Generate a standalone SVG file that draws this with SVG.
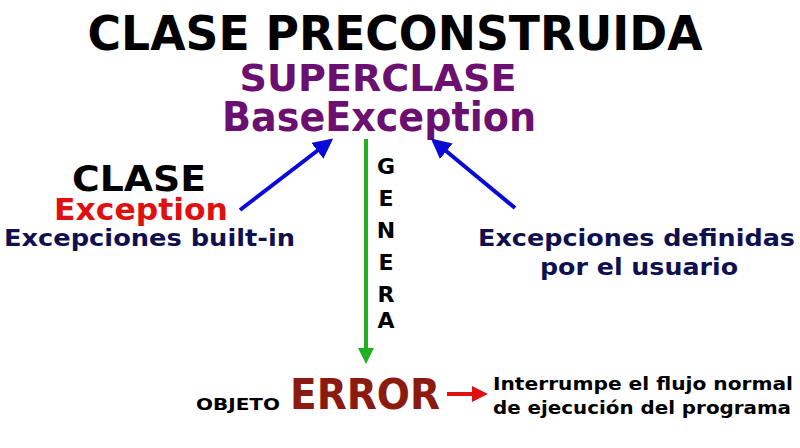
<svg xmlns="http://www.w3.org/2000/svg" width="800" height="448" viewBox="0 0 800 448">
<style>
text{font-family:"DejaVu Sans","Liberation Sans",sans-serif;font-weight:bold}
.p{fill:#6b1070}.n{fill:#101050}
</style>
<defs>
<marker id="ab" markerWidth="5" markerHeight="5" refX="4" refY="2.5" orient="auto" markerUnits="strokeWidth"><path d="M0,0L5,2.5L0,5z" fill="#0a0ad8"/></marker>
<marker id="ag" markerWidth="4" markerHeight="4" refX="3" refY="2" orient="auto" markerUnits="strokeWidth"><path d="M0,0L4,2L0,4z" fill="#22b022"/></marker>
<marker id="ar" markerWidth="4" markerHeight="4" refX="3" refY="2" orient="auto" markerUnits="strokeWidth"><path d="M0,0L4,2L0,4z" fill="#e01010"/></marker>
</defs>
<rect width="800" height="448" fill="#fff"/>
<g id="title"><text x="395" y="50" font-size="48" text-anchor="middle" textLength="615" lengthAdjust="spacingAndGlyphs">CLASE PRECONSTRUIDA</text></g>
<g id="superclase">
<text class="p" x="378" y="91" font-size="38" text-anchor="middle" textLength="277" lengthAdjust="spacingAndGlyphs">SUPERCLASE</text>
<text class="p" x="379" y="131" font-size="40" text-anchor="middle" textLength="314" lengthAdjust="spacingAndGlyphs">BaseException</text>
</g>
<g id="exception">
<text x="139" y="191" font-size="36" text-anchor="middle" textLength="134" lengthAdjust="spacingAndGlyphs">CLASE</text>
<text x="141" y="220" font-size="30" fill="#e01010" text-anchor="middle" textLength="174" lengthAdjust="spacingAndGlyphs">Exception</text>
<text class="n" x="4" y="246" font-size="23" textLength="291" lengthAdjust="spacingAndGlyphs">Excepciones built-in</text>
</g>
<g id="usuario">
<text class="n" x="478" y="246" font-size="23" textLength="317" lengthAdjust="spacingAndGlyphs">Excepciones definidas</text>
<text class="n" x="639" y="275" font-size="23" text-anchor="middle" textLength="198" lengthAdjust="spacingAndGlyphs">por el usuario</text>
</g>
<g id="genera" font-size="22">
<text x="386" y="174" text-anchor="middle">G</text>
<text x="386" y="206" text-anchor="middle">E</text>
<text x="386" y="238" text-anchor="middle">N</text>
<text x="386" y="270" text-anchor="middle">E</text>
<text x="386" y="302" text-anchor="middle">R</text>
<text x="386" y="328" text-anchor="middle">A</text>
</g>
<g id="error">
<text x="196" y="410" font-size="16" textLength="84" lengthAdjust="spacingAndGlyphs">OBJETO</text>
<text x="290" y="409" font-size="42" fill="#8b1a10" textLength="150" lengthAdjust="spacingAndGlyphs" font-family="Liberation Sans">ERROR</text>
<text x="493" y="390" font-size="18" textLength="300" lengthAdjust="spacingAndGlyphs">Interrumpe el flujo normal</text>
<text x="493" y="414" font-size="18" textLength="298" lengthAdjust="spacingAndGlyphs">de ejecución del programa</text>
</g>
<g id="connectors" fill="none">
<line x1="240" y1="210" x2="330" y2="141" stroke="#0a0ad8" stroke-width="4" marker-end="url(#ab)"/>
<line x1="515" y1="208" x2="434" y2="141" stroke="#0a0ad8" stroke-width="4" marker-end="url(#ab)"/>
<line x1="366" y1="139" x2="366" y2="360" stroke="#22b022" stroke-width="4" marker-end="url(#ag)"/>
<line x1="447" y1="394" x2="484" y2="394" stroke="#e01010" stroke-width="4" marker-end="url(#ar)"/>
</g>
</svg>
